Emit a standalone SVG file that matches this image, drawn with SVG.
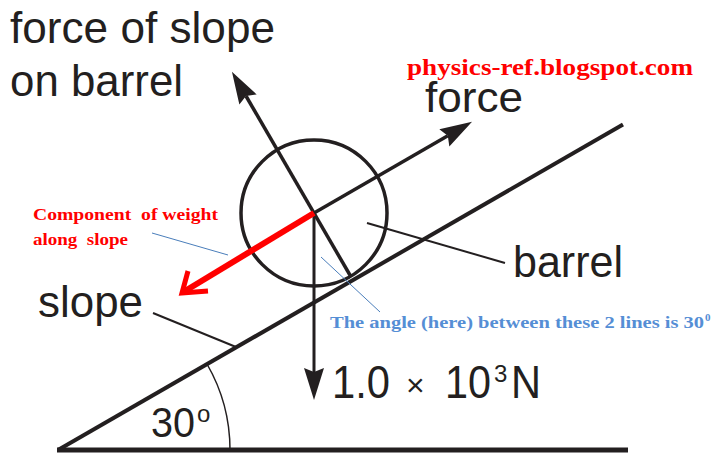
<svg xmlns="http://www.w3.org/2000/svg" width="719" height="460" viewBox="0 0 719 460">
<style>
.lbl{font-family:"Liberation Sans",Arial,sans-serif;fill:#231f20}
.red{font-family:"Liberation Serif","Times New Roman",serif;font-weight:bold;fill:#ff0000}
.blue{font-family:"Liberation Serif","Times New Roman",serif;font-weight:bold;fill:#558ed5}
.blk{stroke:#231f20;fill:none;stroke-linecap:butt}
.lead{stroke:#231f20;stroke-width:2;fill:none}
.bl{stroke:#4a7ebb;stroke-width:1;fill:none}
</style>
<defs>
<marker id="ah" markerUnits="userSpaceOnUse" viewBox="-1 -11 34 22" markerWidth="34" markerHeight="22" refX="4" refY="0" orient="auto" overflow="visible">
<path d="M0,-10 L32,0 L0,10 L4,0 Z" fill="#231f20"/>
</marker>
</defs>
<rect width="719" height="460" fill="#ffffff"/>

<g id="ground">
<line class="blk" x1="57" y1="450" x2="628" y2="450" stroke-width="5"/>
<line class="blk" x1="58" y1="450" x2="623" y2="124.5" stroke-width="4"/>
<path class="blk" d="M230,450 A172,172 0 0 0 207,364" stroke-width="1.5"/>
</g>

<g id="barrel">
<circle cx="314" cy="213" r="73" class="blk" stroke-width="3.5"/>
</g>

<g id="connectors">
<line class="blk" x1="350.5" y1="276" x2="246" y2="96" stroke-width="3.5" marker-end="url(#ah)"/>
<line class="blk" x1="314" y1="213" x2="447.8" y2="135.8" stroke-width="3.5" marker-end="url(#ah)"/>
<line class="blk" x1="314" y1="211" x2="314" y2="372" stroke-width="3" marker-end="url(#ah)"/>
<line x1="314" y1="213" x2="185" y2="291" stroke="#ff0000" stroke-width="6"/>
<polyline points="188,271 182,293 208,291" fill="none" stroke="#ff0000" stroke-width="5" stroke-linejoin="miter" stroke-miterlimit="10"/>
<line class="lead" x1="367" y1="223" x2="505" y2="263"/>
<line class="lead" x1="153" y1="313" x2="236" y2="347"/>
<line class="bl" x1="152" y1="233" x2="228" y2="255"/>
<line class="bl" x1="321" y1="257" x2="380" y2="312"/>
</g>

<g id="labels">
<text class="lbl" x="10" y="43" font-size="45" textLength="265" lengthAdjust="spacingAndGlyphs">force of slope</text>
<text class="lbl" x="10" y="96" font-size="45" textLength="173" lengthAdjust="spacingAndGlyphs">on barrel</text>
<text class="lbl" x="425" y="112" font-size="42" textLength="98" lengthAdjust="spacingAndGlyphs">force</text>
<text class="lbl" x="513" y="277" font-size="45" textLength="110" lengthAdjust="spacingAndGlyphs">barrel</text>
<text class="lbl" x="38" y="317" font-size="45" textLength="105" lengthAdjust="spacingAndGlyphs">slope</text>
<text class="lbl" x="151" y="437" font-size="42"><tspan textLength="44" lengthAdjust="spacingAndGlyphs">30</tspan><tspan x="197" y="422" font-size="24">o</tspan></text>
<text class="lbl" y="398" font-size="46"><tspan x="332" textLength="58" lengthAdjust="spacingAndGlyphs">1.0</tspan><tspan x="406" y="396" font-size="32">×</tspan><tspan x="445" y="398" textLength="46" lengthAdjust="spacingAndGlyphs">10</tspan><tspan x="494" y="382" font-size="24">3</tspan><tspan x="511" y="398" textLength="30" lengthAdjust="spacingAndGlyphs">N</tspan></text>
<text class="red" x="407" y="75" font-size="24" textLength="286" lengthAdjust="spacingAndGlyphs">physics-ref.blogspot.com</text>
<text class="red" x="33" y="220" font-size="17" textLength="185" lengthAdjust="spacingAndGlyphs" xml:space="preserve">Component  of weight</text>
<text class="red" x="33" y="245" font-size="17" textLength="95" lengthAdjust="spacingAndGlyphs" xml:space="preserve">along  slope</text>
<text class="blue" y="328" font-size="16"><tspan x="330" textLength="374" lengthAdjust="spacingAndGlyphs">The angle (here) between these 2 lines is 30</tspan><tspan x="705" y="321" font-size="11">0</tspan></text>
</g>
</svg>
